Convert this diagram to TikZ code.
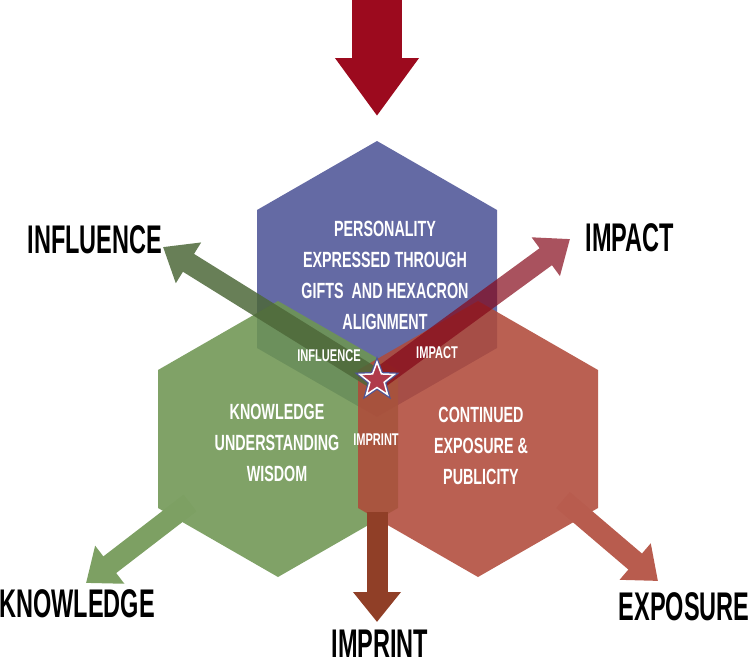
\documentclass[tikz,border=0pt]{standalone}
\usepackage{fontspec}
\newfontfamily\cond{Liberation Sans Bold}[FakeStretch=0.7]
\usetikzlibrary{arrows.meta,shapes.geometric}
\definecolor{hblue}{HTML}{4F5597}
\definecolor{hgreen}{HTML}{6E9552}
\definecolor{hred}{HTML}{B04A3A}
\definecolor{topred}{HTML}{9C0A1E}
\begin{document}
\begin{tikzpicture}[x=1pt,y=-1pt,
  hexa/.style={fill opacity=0.88,draw=none},
  arr/.style={line width=21pt,-{Triangle[width=46pt,length=30pt]}},
  big/.style={font=\cond\fontsize{40}{44}\selectfont,text=black,xscale=0.84,transform shape,inner sep=0pt},
  inner/.style={font=\cond\fontsize{22}{31}\selectfont,text=white,align=center,xscale=0.93,transform shape},
  small/.style={font=\cond\fontsize{17}{19}\selectfont,text=white,xscale=0.93,transform shape}]
\useasboundingbox (0,0) rectangle (750,662);
\def\hx#1#2#3{\fill[#3,hexa] (#1,#2-138) -- (#1+120,#2-69) -- (#1+120,#2+69) -- (#1,#2+138) -- (#1-120,#2+69) -- (#1-120,#2-69) -- cycle;}
\hx{377}{279}{hblue}
\hx{278}{439}{hgreen}
\hx{478}{439}{hred}
\coordinate (c) at (377,380);
\coordinate (inf) at (163,247);
\coordinate (imp) at (570,239);
\coordinate (imps) at (377,512);
\coordinate (impe) at (377,622);
\coordinate (ks) at (190,503);
\coordinate (ke) at (86,583);
\coordinate (es) at (563,500);
\coordinate (ee) at (658,581);
\coordinate (ts) at (377,0);
\coordinate (te) at (377,116);
\begin{scope}[transparency group,opacity=0.85]
\draw[arr,draw=hgreen!70!black,fill=hgreen!70!black] (c) -- (inf);
\end{scope}
\begin{scope}[transparency group,opacity=0.7]
\draw[arr,draw=topred!85!black,fill=topred!85!black] (c) -- (imp);
\end{scope}
\draw[arr,draw=hred!75!black!90!orange,fill=hred!75!black!90!orange] (imps) -- (impe);
\draw[arr,draw=hgreen!90!white,fill=hgreen!90!white] (ks) -- (ke);
\draw[arr,draw=hred!90!white,fill=hred!90!white] (es) -- (ee);
\draw[line width=50pt,draw=topred,-{Triangle[width=80pt,length=58pt,fill=topred]}] (ts) -- (te);
\node[star,star points=5,star point ratio=2.4,minimum size=36pt,draw=hblue,line width=4pt,inner sep=0pt] (st0) at (c) {};
\node[star,star points=5,star point ratio=2.4,minimum size=36pt,fill=topred!80!white,draw=white,line width=1.5pt,inner sep=0pt] (st) at (c) {};
\node[inner] (tb) at (385,275) {PERSONALITY\\EXPRESSED THROUGH\\GIFTS\ \ AND HEXACRON\\ALIGNMENT};
\node[inner] (tg) at (277,443) {KNOWLEDGE\\UNDERSTANDING\\WISDOM};
\node[inner] (tr) at (481,446) {CONTINUED\\EXPOSURE \&\\PUBLICITY};
\node[small] (si) at (329,356) {INFLUENCE};
\node[small] (sm) at (437,353) {IMPACT};
\node[small] (sp) at (376,440) {IMPRINT};
\node[big] (li) at (95,240) {INFLUENCE};
\node[big] (lm) at (630,238) {IMPACT};
\node[big] (lk) at (77,604) {KNOWLEDGE};
\node[big] (lp) at (380,644) {IMPRINT};
\node[big] (le) at (684,607) {EXPOSURE};
\end{tikzpicture}
\end{document}
